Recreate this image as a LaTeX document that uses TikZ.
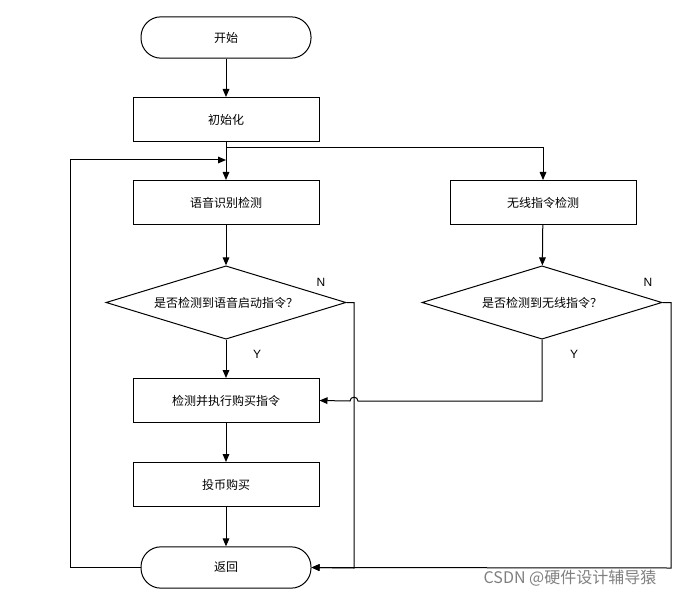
\documentclass[tikz,border=0pt]{standalone}
\usepackage{fontspec}
\setmainfont{Liberation Sans}
\newfontfamily\cjk{Noto Sans CJK SC}
\usetikzlibrary{shapes.geometric,arrows.meta}
\tikzset{every picture/.style={line width=0.75pt}}
\tikzset{
  procbox/.style={draw,rectangle,minimum width=139.5pt,minimum height=33pt,inner sep=0.75pt,font=\cjk\small},
  termbox/.style={draw,rectangle,rounded corners=15pt,minimum width=127.5pt,minimum height=31pt,inner sep=0.75pt,font=\cjk\small},
  askbox/.style={draw,diamond,aspect=3.3,minimum width=180pt,minimum height=55pt,inner sep=0pt,font=\cjk\small},
  flow/.style={-{Triangle[length=6pt,width=5pt]}},
  tag/.style={inner sep=0.75pt,font=\small}
}

\begin{document}
\begin{tikzpicture}[x=0.75pt,y=0.75pt,yscale=-1,xscale=1]
\useasboundingbox (0,0) rectangle (691,598);

% Nodes
\node [termbox] (start) at (226,37.5) {开始};
\node [procbox] (init) at (226,119.5) {初始化};
\node [procbox] (voice) at (226,202.5) {语音识别检测};
\node [procbox] (wless) at (543,202.5) {无线指令检测};
\node [askbox] (askv) at (226,302.5) {是否检测到语音启动指令？};
\node [askbox] (askw) at (542,302.5) {是否检测到无线指令？};
\node [procbox] (exec) at (226,400.5) {检测并执行购买指令};
\node [procbox] (coin) at (226,484.5) {投币购买};
\node [termbox] (ret) at (226,567.5) {返回};

\coordinate (split) at (226,148);
\coordinate (loopin) at (226,160);
\coordinate (hopr) at (358,401);
\coordinate (hopl) at (350,401);

% Main flow
\draw [flow] (start) -- (init);
\draw (init) -- (split);
\draw [flow] (split) -- (voice);
\draw [flow] (split) -| (wless);
\draw [flow] (voice) -- (askv);
\draw [flow] (askv) -- (exec);
\draw [flow] (exec) -- (coin);
\draw [flow] (coin) -- (ret);
\draw [flow] (wless) -- (askw);

% Y branch from wireless test, hopping over the N line
\draw [flow] (askw.south) |- (hopr) .. controls (358,396) and (350,396) .. (hopl) -- (exec.east);

% N branches
\draw [flow] (askv.east) -- (354,302.5) -- (354,568) -- (ret.east);
\draw [flow] (askw.east) -- (671,302.5) -- (671,568) -- (ret.east);

% Loop back
\draw [flow] (ret.west) -- (70,567.5) -- (70,160) -- (loopin);

% Labels
\node [tag] at (321,282) {N};
\node [tag] at (648,282) {N};
\node [tag] at (257,354) {Y};
\node [tag] at (574,354) {Y};
\node [tag,text=gray,font=\cjk\large] at (570,578) {CSDN @硬件设计辅导猿};

\end{tikzpicture}
\end{document}
